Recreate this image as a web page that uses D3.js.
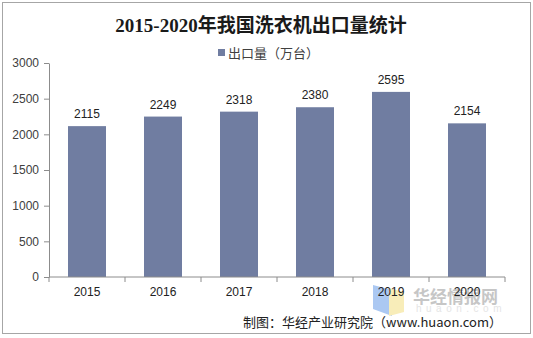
<!DOCTYPE html>
<html>
<head>
<meta charset="utf-8">
<script src="https://cdn.jsdelivr.net/npm/d3@7"></script>
<style>
  html, body { margin: 0; padding: 0; background: #fff; }
  svg { display: block; }
</style>
</head>
<body>
<svg id="chart" width="533" height="338"></svg>
<script>
// Washing machine exports by year (10k units)
const years = ["2015", "2016", "2017", "2018", "2019", "2020"];
const exportsVol = [2115, 2249, 2318, 2380, 2595, 2154];
const yTicks = [0, 500, 1000, 1500, 2000, 2500, 3000];

const titleText = "2015-2020年我国洗衣机出口量统计";
const legendText = "出口量（万台）";
const sourceText = "制图：华经产业研究院（www.huaon.com）";

const svg = d3.select("#chart");
const barColor = "#707DA1";
const textColor = "#404040";
const axisColor = "#8c8c8c";

// outer frame
svg.append("rect")
  .attr("x", 2.5).attr("y", 2.5)
  .attr("width", 528).attr("height", 331)
  .attr("fill", "#fff")
  .attr("stroke", "#a6a6a6").attr("stroke-width", 1);

const plot = { left: 49, right: 505, top: 63, bottom: 277 };

const x = d3.scaleBand()
  .domain(years)
  .range([plot.left, plot.right])
  .paddingInner(0.5).paddingOuter(0.25);

const y = d3.scaleLinear()
  .domain([0, 3000])
  .range([plot.bottom, plot.top]);

// watermark logo and text
const wm = svg.append("g").attr("opacity", 0.75);
wm.append("path")
  .attr("d", "M373,285 L392,290 L392,316 L373,309 Z")
  .attr("fill", "#8fb6ee");
wm.append("path")
  .attr("d", "M389,288 L404,292 L404,312 L389,316 Z")
  .attr("fill", "#f6e7a2");
wm.append("text")
  .attr("x", 413).attr("y", 303)
  .attr("font-family", "Noto Sans CJK SC")
  .attr("font-weight", "bold")
  .attr("font-size", 17)
  .attr("fill", "#b4b4b4")
  .text("华经情报网");
wm.append("text")
  .attr("x", 416).attr("y", 312)
  .attr("font-family", "Liberation Sans, Arial")
  .attr("font-size", 10)
  .attr("letter-spacing", 4.5)
  .attr("fill", "#dcdcdc")
  .text("huaon.com");

// bars
svg.append("g").selectAll("rect")
  .data(years)
  .join("rect")
  .attr("x", d => x(d))
  .attr("y", (d, i) => y(exportsVol[i]))
  .attr("width", x.bandwidth())
  .attr("height", (d, i) => y(0) - y(exportsVol[i]))
  .attr("fill", barColor);

// value labels
svg.append("g").selectAll("text")
  .data(years)
  .join("text")
  .attr("x", d => x(d) + x.bandwidth() / 2)
  .attr("y", (d, i) => y(exportsVol[i]) - 8)
  .attr("text-anchor", "middle")
  .attr("font-family", "Liberation Sans, Arial")
  .attr("font-size", 12)
  .attr("fill", "#222")
  .text((d, i) => exportsVol[i]);

// y axis
const yAxis = svg.append("g")
  .attr("transform", `translate(${plot.left},0)`)
  .call(d3.axisLeft(y).tickValues(yTicks).tickFormat(d3.format("d"))
    .tickSize(5).tickPadding(5).tickSizeOuter(0));
yAxis.select(".domain").attr("stroke", axisColor);
yAxis.selectAll(".tick line").attr("stroke", axisColor);
yAxis.selectAll(".tick text")
  .attr("font-family", "Liberation Sans, Arial")
  .attr("font-size", 12)
  .attr("fill", textColor);

// x axis, ticks sit on category boundaries
const xAxis = svg.append("g")
  .attr("transform", `translate(0,${plot.bottom})`);
xAxis.append("line")
  .attr("x1", plot.left).attr("x2", plot.right)
  .attr("stroke", axisColor);
const step = x.step();
const firstEdge = x(years[0]) - (step - x.bandwidth()) / 2;
const bounds = d3.range(years.length + 1).map(i => firstEdge + i * step);
xAxis.selectAll("line.tk")
  .data(bounds)
  .join("line")
  .attr("class", "tk")
  .attr("x1", d => d).attr("x2", d => d)
  .attr("y1", 0).attr("y2", 5)
  .attr("stroke", axisColor);
xAxis.selectAll("text")
  .data(years)
  .join("text")
  .attr("x", d => x(d) + x.bandwidth() / 2)
  .attr("y", 19)
  .attr("text-anchor", "middle")
  .attr("font-family", "Liberation Sans, Arial")
  .attr("font-size", 12)
  .attr("fill", "#222")
  .text(d => d);

// title
svg.append("text")
  .attr("x", 261).attr("y", 32)
  .attr("text-anchor", "middle")
  .attr("font-family", "Liberation Serif, Noto Sans CJK SC")
  .attr("font-weight", "bold")
  .attr("font-size", 19)
  .attr("fill", "#1a1a1a")
  .text(titleText);

// legend
svg.append("rect")
  .attr("x", 218).attr("y", 49)
  .attr("width", 7).attr("height", 7)
  .attr("fill", barColor);
svg.append("text")
  .attr("x", 228).attr("y", 58)
  .attr("font-family", "Noto Sans CJK SC")
  .attr("font-size", 13)
  .attr("fill", textColor)
  .text(legendText);

// source note
svg.append("text")
  .attr("x", 502).attr("y", 327)
  .attr("text-anchor", "end")
  .attr("font-family", "Noto Sans CJK SC")
  .attr("font-size", 13)
  .attr("fill", "#222")
  .text(sourceText);
</script>
</body>
</html>
